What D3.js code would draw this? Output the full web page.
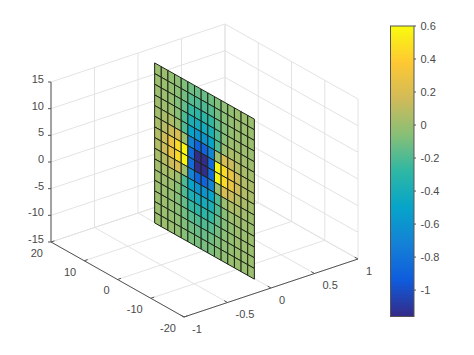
<!DOCTYPE html>
<html>
<head>
<meta charset="utf-8">
<script src="https://cdn.jsdelivr.net/npm/d3@7"></script>
<style>
  html, body { margin: 0; padding: 0; background: #fff; }
  svg { display: block; }
  text { font-family: "Liberation Sans", Arial, sans-serif; font-size: 11px; fill: #4a4a4a; }
</style>
</head>
<body>
<div id="chart"></div>
<script>
// Axis ticks
const xTicks = [-1, -0.5, 0, 0.5, 1];
const yTicks = [-20, -10, 0, 10, 20];
const zTicks = [-15, -10, -5, 0, 5, 10, 15];
const barTicks = [-1, -0.8, -0.6, -0.4, -0.2, 0, 0.2, 0.4, 0.6];

// Extent of the surface sheet (it sits on x = 0)
const sheetX = 0;
const sheetY = [15, -15];
const sheetZ = [15, -15];

// Colour limits and the parula stops
const colorLimits = [-1.16, 0.6];
const parula = ["#352a87", "#0f5cdd", "#1481d6", "#06a4ca", "#2eb7a4", "#87bf77", "#d1bb59", "#fec832", "#f9fb0e"];

// Cell values, top row first
const cellValues = [
  [0, 0, -.02, -.04, -.08, -.12, -.14, -.14, -.12, -.08, -.04, -.02, 0, 0, 0],
  [0, 0, -.02, -.05, -.11, -.18, -.2, -.2, -.18, -.11, -.05, -.02, 0, 0, 0],
  [0, 0, -.02, -.07, -.15, -.27, -.3, -.3, -.27, -.15, -.07, -.02, 0, 0, 0],
  [.01, .01, 0, -.06, -.2, -.38, -.42, -.42, -.38, -.2, -.06, 0, .01, .01, 0],
  [.02, .04, .05, 0, -.2, -.5, -.6, -.6, -.5, -.2, 0, .05, .04, .02, .01],
  [.04, .08, .14, .2, 0, -.7, -.9, -.9, -.7, 0, .2, .14, .08, .04, .02],
  [.07, .15, .28, .45, .58, -.85, -1.15, -1.15, -.85, .58, .45, .28, .15, .07, .04],
  [.07, .15, .28, .45, .58, -.85, -1.15, -1.15, -.85, .58, .45, .28, .15, .07, .04],
  [.04, .08, .14, .2, 0, -.7, -.9, -.9, -.7, 0, .2, .14, .08, .04, .02],
  [.02, .04, .05, 0, -.2, -.5, -.6, -.6, -.5, -.2, 0, .05, .04, .02, .01],
  [.01, .01, 0, -.06, -.2, -.38, -.42, -.42, -.38, -.2, -.06, 0, .01, .01, 0],
  [0, 0, -.02, -.07, -.15, -.27, -.3, -.3, -.27, -.15, -.07, -.02, 0, 0, 0],
  [0, 0, -.02, -.05, -.11, -.18, -.2, -.2, -.18, -.11, -.05, -.02, 0, 0, 0],
  [0, 0, -.02, -.04, -.08, -.12, -.14, -.14, -.12, -.08, -.04, -.02, 0, 0, 0],
  [0, 0, -.01, -.03, -.06, -.09, -.1, -.1, -.09, -.06, -.03, -.01, 0, 0, 0]
];

const width = 474, height = 355;
const svg = d3.select("#chart").append("svg").attr("width", width).attr("height", height);

// Orthographic view: each data axis adds its own screen offset
const xToX = d3.scaleLinear().domain([-1, 1]).range([-87, 87]);
const xToY = d3.scaleLinear().domain([-1, 1]).range([29, -29]);
const yToX = d3.scaleLinear().domain([-20, 20]).range([66.5, -66.5]);
const yToY = d3.scaleLinear().domain([-20, 20]).range([37.5, -37.5]);
const zToY = d3.scaleLinear().domain([-15, 15]).range([80, -80]);
const originX = 204.5, originY = 170.5;

function project(x, y, z) {
    return [originX + xToX(x) + yToX(y), originY + xToY(x) + yToY(y) + zToY(z)];
}

const path = d3.line();
const xMin = -1, xMax = 1, yMin = -20, yMax = 20, zMin = -15, zMax = 15;

function segment(parent, a, b, color, sw) {
    parent.append("path")
        .attr("d", path([a, b]))
        .attr("fill", "none")
        .attr("stroke", color)
        .attr("stroke-width", sw);
}

// Grid on the floor and the two back walls
const grid = svg.append("g");
const gridColor = "#e3e3e3";
xTicks.forEach(x => {
    segment(grid, project(x, yMin, zMin), project(x, yMax, zMin), gridColor, 1);
    segment(grid, project(x, yMax, zMin), project(x, yMax, zMax), gridColor, 1);
});
yTicks.forEach(y => {
    segment(grid, project(xMin, y, zMin), project(xMax, y, zMin), gridColor, 1);
    segment(grid, project(xMax, y, zMin), project(xMax, y, zMax), gridColor, 1);
});
zTicks.forEach(z => {
    segment(grid, project(xMin, yMax, z), project(xMax, yMax, z), gridColor, 1);
    segment(grid, project(xMax, yMax, z), project(xMax, yMin, z), gridColor, 1);
});

// Axis lines
const axes = svg.append("g");
const axisColor = "#555";
segment(axes, project(xMin, yMax, zMin), project(xMin, yMax, zMax), axisColor, 1);
segment(axes, project(xMin, yMax, zMin), project(xMin, yMin, zMin), axisColor, 1);
segment(axes, project(xMin, yMin, zMin), project(xMax, yMin, zMin), axisColor, 1);

// z ticks and labels
zTicks.forEach(z => {
    const p = project(xMin, yMax, z);
    segment(axes, [p[0] - 3, p[1]], p, axisColor, 1);
    axes.append("text")
        .attr("x", p[0] - 7)
        .attr("y", p[1] - 3)
        .attr("dy", "0.35em")
        .attr("text-anchor", "end")
        .text(z);
});

// y ticks and labels
yTicks.forEach(y => {
    const p = project(xMin, y, zMin);
    segment(axes, p, project(xMin + 0.04, y, zMin), axisColor, 1);
    axes.append("text")
        .attr("x", p[0] - 8)
        .attr("y", p[1] + 11)
        .attr("dy", "0.35em")
        .attr("text-anchor", "end")
        .text(y);
});

// x ticks and labels
xTicks.forEach(x => {
    const p = project(x, yMin, zMin);
    segment(axes, p, project(x, yMin + 1, zMin), axisColor, 1);
    axes.append("text")
        .attr("x", p[0] + 8)
        .attr("y", p[1] + 12)
        .attr("dy", "0.35em")
        .text(x);
});

// Colour scale
const color = d3.scaleLinear()
    .domain(parula.map((d, i) => colorLimits[0] + (colorLimits[1] - colorLimits[0]) * i / (parula.length - 1)))
    .range(parula)
    .interpolate(d3.interpolateRgb);

// The sheet, one polygon per cell
const nRows = cellValues.length, nCols = cellValues[0].length;
const colToY = d3.scaleLinear().domain([0, nCols]).range(sheetY);
const rowToZ = d3.scaleLinear().domain([0, nRows]).range(sheetZ);

const cells = [];
cellValues.forEach((row, r) => row.forEach((v, c) => cells.push({ r, c, v })));

svg.append("g").attr("transform", "translate(0,0.5)").selectAll("path")
    .data(cells)
    .join("path")
    .attr("d", d => path([
        project(sheetX, colToY(d.c), rowToZ(d.r)),
        project(sheetX, colToY(d.c + 1), rowToZ(d.r)),
        project(sheetX, colToY(d.c + 1), rowToZ(d.r + 1)),
        project(sheetX, colToY(d.c), rowToZ(d.r + 1))
    ]) + "Z")
    .attr("fill", d => color(d.v))
    .attr("stroke", "#1c2418")
    .attr("stroke-width", 1)
    .attr("stroke-linejoin", "round");

// Colour bar
const bar = { left: 390.5, right: 414, top: 26, bottom: 316.5 };
const barScale = d3.scaleLinear().domain(colorLimits).range([bar.bottom, bar.top]);

const grad = svg.append("defs").append("linearGradient")
    .attr("id", "parula")
    .attr("x1", 0).attr("y1", 1).attr("x2", 0).attr("y2", 0);
grad.selectAll("stop")
    .data(parula)
    .join("stop")
    .attr("offset", (d, i) => i / (parula.length - 1))
    .attr("stop-color", d => d);

const colorbar = svg.append("g");
colorbar.append("rect")
    .attr("x", bar.left)
    .attr("y", bar.top)
    .attr("width", bar.right - bar.left)
    .attr("height", bar.bottom - bar.top)
    .attr("fill", "url(#parula)")
    .attr("stroke", "#555")
    .attr("stroke-width", 1);

barTicks.forEach(t => {
    const y = barScale(t);
    segment(colorbar, [bar.right, y], [bar.right + 2, y], axisColor, 1);
    colorbar.append("text")
        .attr("x", bar.right + 6.5)
        .attr("y", y)
        .attr("dy", "0.35em")
        .text(t);
});
</script>
</body>
</html>
